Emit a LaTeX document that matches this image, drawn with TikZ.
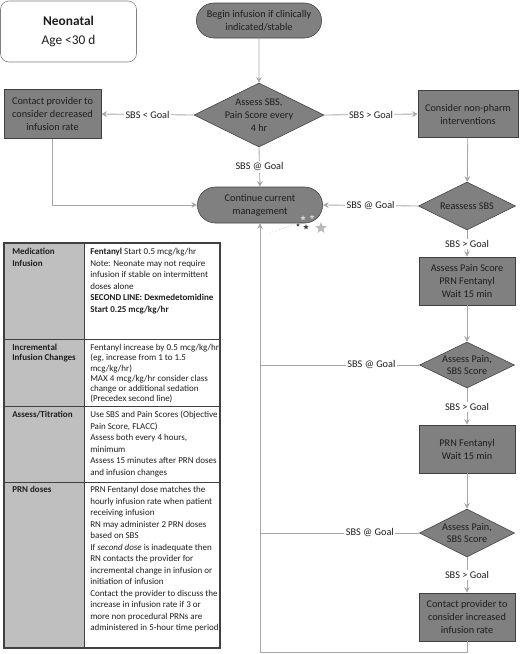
\documentclass[tikz,border=0pt]{standalone}
\usepackage{fontspec}
\setmainfont{Carlito}
\usetikzlibrary{positioning,arrows.meta,shapes.geometric,shapes.misc}

\definecolor{boxgray}{RGB}{128,128,128}
\definecolor{boxline}{RGB}{64,64,64}
\definecolor{linegray}{RGB}{166,166,166}
\definecolor{tabgray}{RGB}{191,191,191}
\definecolor{textdark}{RGB}{30,30,30}

\begin{document}
\begin{tikzpicture}[
  x=0.025cm, y=-0.025cm,
  flowfont/.style={font=\fontsize{7.3}{9.2}\selectfont, text=textdark},
  terminal/.style={rounded rectangle, draw=boxline, fill=boxgray, flowfont, align=center, minimum width=3.2cm, minimum height=0.9cm, inner sep=1pt},
  process/.style={rectangle, draw=boxline, fill=boxgray, flowfont, align=center, minimum width=2.4cm, minimum height=1.2cm, inner sep=1pt},
  decision/.style={diamond, draw=boxline, fill=boxgray, flowfont, align=center, inner sep=-2pt, aspect=2},
  lbl/.style={fill=white, flowfont, inner sep=1pt},
  link/.style={draw=linegray, line width=0.6pt},
  cell/.style={anchor=north west, align=left, inner sep=0pt, text=textdark, font=\fontsize{6.4}{8.2}\selectfont},
  tightcell/.style={cell, font=\fontsize{6.4}{7.3}\selectfont},
  spark/.style={star, star points=5, star point ratio=2.3, inner sep=0pt},
  >={Stealth[length=4pt,width=4pt]}
]
\useasboundingbox (0,0) rectangle (520,654);

% title box
\node[draw=gray, rounded corners=6pt, minimum width=3.4cm, minimum height=1.525cm, align=center, text=textdark,
  font=\fontsize{9.5}{12}\selectfont] (title) at (68.5,31.5) {\textbf{Neonatal}\\[2pt]Age <30 d};

% flow chart
\node[terminal, minimum height=0.875cm] (begin) at (259,20.5) {Begin infusion if clinically\\indicated/stable};
\node[decision, minimum width=3.25cm, minimum height=1.6cm] (assess) at (259,115) {Assess SBS,\\Pain Score every\\4 hr};
\node[process, minimum width=2.425cm, minimum height=1.225cm] (decrease) at (52.5,114) {Contact provider to\\consider decreased\\infusion rate};
\node[process, minimum width=2.5cm, minimum height=1.175cm] (nonpharm) at (468,114) {Consider non-pharm\\interventions};
\node[terminal] (continue) at (260,205) {Continue current\\management};
\node[decision, minimum width=2.425cm, minimum height=1.2cm] (reassess) at (467,206) {Reassess SBS};
\node[process] (painscore) at (467,281) {Assess Pain Score\\PRN Fentanyl\\Wait 15 min};
\node[decision, minimum width=2.375cm, minimum height=1.15cm] (pain1) at (467,365) {Assess Pain,\\SBS Score};
\node[process] (prn) at (467,449) {PRN Fentanyl\\Wait 15 min};
\node[decision, minimum width=2.375cm, minimum height=1.2cm] (pain2) at (467,533) {Assess Pain,\\SBS Score};
\node[process] (increase) at (467,617) {Contact provider to\\consider increased\\infusion rate};
\coordinate (retbot) at (260,652);

\draw[link,->] (begin) -- (assess);
\draw[link,->] (assess.west) -- node[lbl] {SBS < Goal} (decrease.east);
\draw[link,->] (assess.east) -- node[lbl] {SBS > Goal} (nonpharm.west);
\draw[link,->] (assess.south) -- node[lbl] {SBS @ Goal} (continue.north);
\draw[link,->] (decrease.south) |- (continue.west);
\draw[link,->] (nonpharm) -- (reassess);
\draw[link,->] (reassess.west) -- node[lbl] {SBS @ Goal} (continue.east);
\draw[link,->] (reassess.south) -- node[lbl] {SBS > Goal} (painscore.north);
\draw[link,->] (painscore) -- (pain1);
\draw[link,->] (pain1.south) -- node[lbl] {SBS > Goal} (prn.north);
\draw[link,->] (prn) -- (pain2);
\draw[link,->] (pain2.south) -- node[lbl] {SBS > Goal} (increase.north);
\draw[link] (pain1.west) -- node[lbl, pos=0.3] {SBS @ Goal} (pain1.west -| retbot);
\draw[link] (pain2.west) -- node[lbl, pos=0.31] {SBS @ Goal} (pain2.west -| retbot);
\draw[link,->] (increase.south) |- (retbot) -- (continue.south);

% sparkle
\foreach \i in {0,...,9}
  \fill[gray!60] ({270+3*\i},{233-1.1*\i}) circle (0.5);
\node[spark, fill=gray!55, minimum size=0.3cm] (star1) at (321,228) {};
\node[spark, fill=boxline, minimum size=0.14cm] (star2) at (306,227) {};
\node[spark, fill=boxline, minimum size=0.09cm] (star3) at (298,225) {};
\node[spark, fill=gray!35, minimum size=0.14cm] (star4) at (303,218) {};
\node[spark, fill=gray!35, minimum size=0.12cm] (star5) at (312,217) {};

% table
\fill[tabgray] (4,243) rectangle (84,648);
\draw[boxline, line width=0.5pt] (84,243) -- (84,648);
\foreach \r in {339,406,482}
  \draw[boxline, line width=0.5pt] (4,\r) -- (220,\r);
\draw[boxline, line width=0.8pt] (4,243) rectangle (220,648);

\node[cell] (medhead) at (12,248) {\textbf{Medication}\\\textbf{Infusion}};
\node[cell] (medtext) at (90,248) {\textbf{Fentanyl} Start 0.5 mcg/kg/hr\\
Note: Neonate may not require\\
infusion if stable on intermittent\\
doses alone\\
\textbf{SECOND LINE: Dexmedetomidine}\\
\textbf{Start 0.25 mcg/kg/hr}};

\node[tightcell] (inchead) at (12,344) {\textbf{Incremental}\\\textbf{Infusion Changes}};
\node[tightcell] (inctext) at (90,344) {Fentanyl increase by 0.5 mcg/kg/hr\\
(eg, increase from 1 to 1.5\\
mcg/kg/hr)\\
MAX 4 mcg/kg/hr consider class\\
change or additional sedation\\
(Precedex second line)};

\node[cell] (titrhead) at (12,411) {\textbf{Assess/Titration}};
\node[cell] (titrtext) at (90,411) {Use SBS and Pain Scores (Objective\\
Pain Score, FLACC)\\
Assess both every 4 hours,\\
minimum\\
Assess 15 minutes after PRN doses\\
and infusion changes};

\node[cell] (prnhead) at (12,486) {\textbf{PRN doses}};
\node[cell] (prntext) at (90,486) {PRN Fentanyl dose matches the\\
hourly infusion rate when patient\\
receiving infusion\\
RN may administer 2 PRN doses\\
based on SBS\\
If \textit{second dose} is inadequate then\\
RN contacts the provider for\\
incremental change in infusion or\\
initiation of infusion\\
Contact the provider to discuss the\\
increase in infusion rate if 3 or\\
more non procedural PRNs are\\
administered in 5-hour time period};
\end{tikzpicture}
\end{document}
